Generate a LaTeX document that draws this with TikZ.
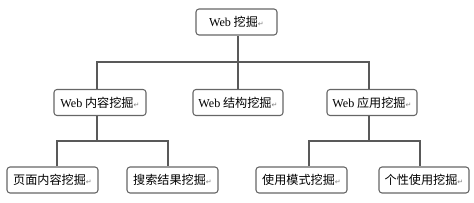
\documentclass[tikz,border=0pt]{standalone}
\usepackage{fontspec}
\setmainfont{Liberation Serif}
\newfontfamily\cjk{Noto Sans CJK SC}
\newfontfamily\sym{DejaVu Sans}
\newcommand{\wb}{{\rmfamily Web}}
\newcommand{\retmark}{{\sym\fontsize{4}{4}\selectfont\textcolor{gray}{↵}}}
\begin{document}
\begin{tikzpicture}[x=0.02cm,y=-0.02cm,
  box/.style={draw=black!60,line width=0.6pt,rounded corners=0.06cm,minimum height=0.52cm,inner sep=0pt,font=\cjk\fontsize{6.9}{7.5}\selectfont},
  link/.style={draw=black!65,line width=0.6pt}]
\useasboundingbox (0,0) rectangle (474,203);
\foreach \x/\y/\w/\name/\txt in {236.5/22/81/top/\wb{} 挖掘,100/102.5/92/a/\wb{} 内容挖掘,238/102.5/90/b/\wb{} 结构挖掘,372/102.5/90/c/\wb{} 应用挖掘,52.5/180/91/a1/页面内容挖掘,172.5/180/91/a2/搜索结果挖掘,301.5/180/91/c1/使用模式挖掘,424/180/90/c2/个性使用挖掘}
{
\node[box,minimum width=\w*0.02cm] (\name) at (\x,\y) {\txt\retmark};
}
% first level
\coordinate (ra) at (97,62);
\coordinate (rc) at (369,62);
\draw[link] (b.north) -- (b.north |- top.south);
\draw[link] (ra |- a.north) |- (rc) -- (rc |- c.north);
% second level
\coordinate (la1) at (57,141);
\coordinate (la2) at (168,141);
\coordinate (lc1) at (309,141);
\coordinate (lc2) at (420,141);
\draw[link] (ra |- a.south) -- (ra |- la1);
\draw[link] (la1 |- a1.north) -- (la1) -- (la2) -- (la2 |- a2.north);
\draw[link] (rc |- c.south) -- (rc |- lc1);
\draw[link] (lc1 |- c1.north) -- (lc1) -- (lc2) -- (lc2 |- c2.north);
\end{tikzpicture}
\end{document}
